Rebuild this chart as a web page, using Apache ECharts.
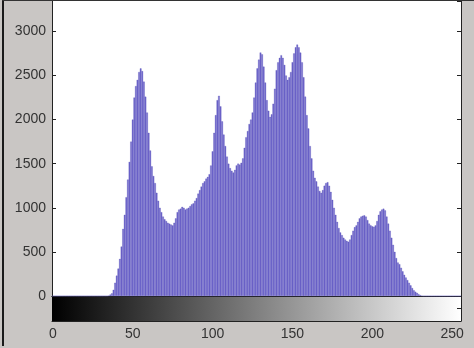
<!DOCTYPE html>
<html><head><meta charset="utf-8">
<script src="https://cdn.jsdelivr.net/npm/echarts@6/dist/echarts.min.js"></script>
<style>html,body{margin:0;padding:0;background:#c9c6c4;}#c{width:474px;height:348px;}</style>
</head><body><div id="c"></div>
<script>
// x tick labels (gray levels)
const tickLabels = [0, 50, 100, 150, 200, 250];
// y tick step and axis top
const yStep = 500;
const yMax = 3345;
// histogram counts for gray levels 0..255
const counts = [
  // 0-34
  0,0,0,0,0,0,0,0,0,0, 0,0,0,0,0,0,0,0,0,0, 0,0,0,0,0,0,0,0,0,0, 0,0,0,0,0,
  // 35-49
  5,15,30,70,150,230,310,420,560,760,920,1120,1320,1520,1750,
  // 50-59
  2000,2250,2380,2450,2540,2580,2550,2430,2260,2080,
  // 60-69
  1850,1650,1470,1360,1280,1170,1080,1000,950,900,
  // 70-79
  870,850,830,820,810,800,830,880,950,980,
  // 80-89
  990,1010,1000,980,990,1000,1020,1040,1050,1080,
  // 90-99
  1110,1160,1200,1240,1280,1300,1330,1350,1380,1480,
  // 100-109
  1640,1850,2050,2220,2270,2150,1980,1830,1700,1580,
  // 110-119
  1500,1450,1420,1400,1430,1480,1500,1490,1510,1560,
  // 120-129
  1680,1800,1870,1950,2000,2080,2250,2420,2580,2680,
  // 130-139
  2760,2740,2600,2420,2220,2100,2030,2060,2180,2350,
  // 140-149
  2560,2650,2700,2730,2700,2620,2500,2450,2480,2540,
  // 150-159
  2650,2750,2820,2850,2820,2760,2650,2480,2260,2050,
  // 160-169
  1900,1700,1560,1420,1340,1300,1240,1190,1170,1200,
  // 170-179
  1250,1280,1290,1250,1180,1090,1000,920,840,770,
  // 180-189
  720,690,660,640,625,615,640,690,740,780,
  // 190-199
  800,840,880,900,910,915,900,860,820,800,
  // 200-209
  790,785,800,850,920,960,980,990,970,900,
  // 210-219
  820,740,660,580,500,430,380,360,320,280,
  // 220-231
  240,210,180,150,120,90,65,48,35,20,10,4,
  // 232-255
  0,0,0,0,0,0,0,0,0,0, 0,0,0,0,0,0,0,0,0,0, 0,0,0,0
];
const categories = counts.map((_, i) => String(i));

const isTick = (idx) => tickLabels.indexOf(idx) !== -1;
const lineCol = '#222';
const font = {color: '#333', fontSize: 14, fontFamily: 'Liberation Sans, Arial, sans-serif'};

const chart = echarts.init(document.getElementById('c'));
chart.setOption({
  animation: false,
  backgroundColor: '#c9c6c4',
  grid: [
    {left: 52, right: 13, top: 1, height: 295, show: true, backgroundColor: '#ffffff', borderWidth: 0},
    {left: 52, right: 13, top: 296, height: 25, show: true, borderWidth: 0,
     backgroundColor: new echarts.graphic.LinearGradient(0, 0, 1, 0, [
       {offset: 0, color: '#000000'}, {offset: 1, color: '#ffffff'}])}
  ],
  xAxis: [
    {gridIndex: 0, type: 'category', data: categories, position: 'bottom',
     axisLine: {lineStyle: {color: lineCol}}, axisLabel: {show: false},
     axisTick: {inside: true, length: 4, alignWithLabel: true, interval: isTick, lineStyle: {color: lineCol}}},
    {gridIndex: 0, type: 'category', data: categories, position: 'top',
     axisLine: {lineStyle: {color: lineCol}}, axisLabel: {show: false},
     axisTick: {inside: true, length: 4, alignWithLabel: true, interval: isTick, lineStyle: {color: lineCol}}},
    {gridIndex: 1, type: 'category', data: categories, position: 'bottom',
     axisLine: {lineStyle: {color: lineCol}},
     axisLabel: Object.assign({interval: isTick, margin: 6}, font),
     axisTick: {inside: true, length: 4, alignWithLabel: true, interval: isTick, lineStyle: {color: lineCol}}},
    {gridIndex: 1, type: 'category', data: categories, position: 'top',
     axisLine: {show: false}, axisLabel: {show: false},
     axisTick: {inside: true, length: 4, alignWithLabel: true, interval: isTick, lineStyle: {color: lineCol}}}
  ],
  yAxis: [
    {gridIndex: 0, type: 'value', min: 0, max: yMax, interval: yStep, position: 'left',
     splitLine: {show: false},
     axisLine: {show: true, lineStyle: {color: lineCol}},
     axisTick: {show: true, inside: true, length: 4, lineStyle: {color: lineCol}},
     axisLabel: Object.assign({margin: 6, showMaxLabel: false,
       formatter: v => (v % yStep === 0 ? String(v) : '')}, font)},
    {gridIndex: 0, type: 'value', min: 0, max: yMax, interval: yStep, position: 'right',
     splitLine: {show: false},
     axisLine: {show: true, lineStyle: {color: lineCol}},
     axisTick: {show: true, inside: true, length: 4, lineStyle: {color: lineCol}},
     axisLabel: {show: false}},
    {gridIndex: 1, type: 'value', min: 0, max: 1, interval: 0.5, position: 'right',
     splitLine: {show: false},
     axisLine: {show: true, lineStyle: {color: lineCol}},
     axisTick: {show: true, inside: true, length: 4, lineStyle: {color: lineCol}},
     axisLabel: {show: false}}
  ],
  series: [
    {type: 'bar', xAxisIndex: 0, yAxisIndex: 0, data: counts,
     barCategoryGap: '0%', barGap: '0%',
     itemStyle: {color: '#6f66cc', borderColor: '#5a51b6', borderWidth: 0.3}}
  ],
  graphic: [
    {type: 'rect', shape: {x: 2, y: 0, width: 2, height: 346}, style: {fill: '#1a1a1a'}, z: 100},
    {type: 'rect', shape: {x: 2, y: 0, width: 472, height: 1}, style: {fill: '#333'}, z: 100}
  ]
});
</script>
</body></html>
